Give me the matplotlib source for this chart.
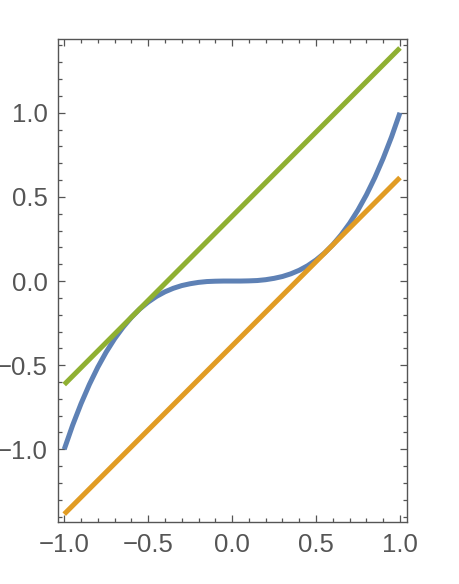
import matplotlib
matplotlib.use('Agg')
import matplotlib.pyplot as plt
from matplotlib.ticker import MultipleLocator

# cubic curve
curveX = [-1.00, -0.95, -0.90, -0.85, -0.80, -0.75, -0.70, -0.65, -0.60, -0.55,
          -0.50, -0.45, -0.40, -0.35, -0.30, -0.25, -0.20, -0.15, -0.10, -0.05,
          0.00, 0.05, 0.10, 0.15, 0.20, 0.25, 0.30, 0.35, 0.40, 0.45,
          0.50, 0.55, 0.60, 0.65, 0.70, 0.75, 0.80, 0.85, 0.90, 0.95, 1.00]
curveY = [-1.000, -0.857, -0.729, -0.614, -0.512, -0.422, -0.343, -0.275, -0.216, -0.166,
          -0.125, -0.091, -0.064, -0.043, -0.027, -0.016, -0.008, -0.003, -0.001, 0.000,
          0.000, 0.000, 0.001, 0.003, 0.008, 0.016, 0.027, 0.043, 0.064, 0.091,
          0.125, 0.166, 0.216, 0.275, 0.343, 0.422, 0.512, 0.614, 0.729, 0.857, 1.000]

# the two straight lines (end points)
lineX = [-1.0, 1.0]
lowerY = [-1.385, 0.615]
upperY = [-0.615, 1.385]

blue = '#5E81B5'
orange = '#E19C24'
green = '#8FB032'
gray = '#555555'

plt.rcParams['font.family'] = ['Liberation Sans', 'DejaVu Sans']

fig = plt.figure(figsize=(4.59, 5.84), dpi=100)
ax = fig.add_axes([0.1253, 0.1067, 0.886 - 0.1253, 0.934 - 0.1067])

ax.plot(curveX, curveY, color=blue, lw=3.6, solid_capstyle='butt')
ax.plot(lineX, lowerY, color=orange, lw=3.6, solid_capstyle='butt')
ax.plot(lineX, upperY, color=green, lw=3.6, solid_capstyle='butt')

ax.set_xlim(-1.04, 1.04)
ax.set_ylim(-1.43, 1.441)

ax.xaxis.set_major_locator(MultipleLocator(0.5))
ax.xaxis.set_minor_locator(MultipleLocator(0.1))
ax.yaxis.set_major_locator(MultipleLocator(0.5))
ax.yaxis.set_minor_locator(MultipleLocator(0.1))
fmt = plt.FuncFormatter(lambda v, p: f'{v:.1f}'.replace('-', '\u2212'))
ax.xaxis.set_major_formatter(fmt)
ax.yaxis.set_major_formatter(fmt)

for s in ax.spines.values():
    s.set_color(gray)
    s.set_linewidth(1.0)

ax.tick_params(which='both', direction='in', top=True, right=True, color=gray,
               labelcolor=gray, labelsize=18.5, width=0.9)
ax.tick_params(which='major', length=5)
ax.tick_params(which='minor', length=3)
ax.tick_params(axis='y', which='major', pad=7)
ax.tick_params(axis='x', which='major', pad=8)
ax.tick_params(labeltop=False, labelright=False)

fig.savefig('out.png', dpi=100)
